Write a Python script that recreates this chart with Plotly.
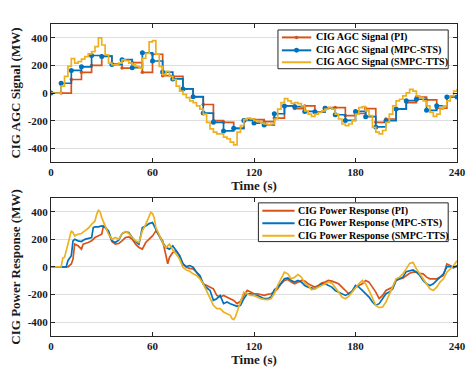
import plotly.graph_objects as go

# ---------------- DATA ----------------
# AGC signal, MPC-STS and PI: one value every 6 s (stairs), t = 0..240
agc_t6 = list(range(0, 241, 6))
agc_mpc = [0, 71, 164, 190, 272, 265, 207, 242, 184, 291, 232, 152, 102, 30, -27,
           -145, -212, -274, -255, -198, -217, -231, -150, -93, -98, -133, -136,
           -110, -157, -198, -133, -171, -245, -200, -115, -55, -45, -125, -92, -28, -28]
agc_pi = [0, 0, 98, 150, 200, 269, 207, 181, 221, 150, 281, 126, 121, 31, -26,
          -83, -200, -212, -255, -193, -193, -207, -181, -93, -112, -93, -136,
          -105, -105, -164, -148, -112, -212, -188, -117, -69, -29, -50, -110, -26, -26]
# AGC signal, SMPC-TTS: one value every 2 s (stairs)
agc_t2 = list(range(0, 241, 2))
agc_smpc = [0, 0, 0, 50, 121, 193, 250, 217, 228, 245, 264, 283, 300, 336, 400, 348,
            276, 217, 205, 205, 217, 240, 235, 217, 205, 193, 181, 252, 288, 371, 380,
            281, 193, 133, 157, 121, 98, 50, 14, -10, -33, -57, -69, -93, -117, -152,
            -212, -260, -283, -295, -295, -319, -331, -355, -375, -283, -236, -193,
            -181, -188, -200, -207, -217, -224, -231, -224, -188, -117, -69, -40, -57,
            -74, -69, -76, -93, -129, -152, -169, -152, -140, -129, -117, -105, -117,
            -152, -188, -224, -236, -224, -200, -152, -105, -98, -129, -164, -248,
            -283, -295, -271, -212, -152, -93, -57, -45, -21, 2, 26, 14, -21, -33,
            -57, -93, -140, -169, -152, -117, -93, -57, -21, 14, 31]

# Power response
pw_pi_t = [0, 10, 12, 13, 14, 16, 18, 19, 22, 24, 26, 28, 30, 31, 32, 34, 36, 38, 40,
           42, 44, 46, 48, 50, 52, 54, 55, 56, 58, 60, 62, 64, 66, 68, 69, 70, 72, 74,
           76, 78, 80, 82, 84, 86, 88, 90, 92, 94, 96, 98, 100, 102, 104, 106, 108,
           110, 112, 114, 116, 118, 120, 122, 124, 126, 128, 130, 132, 134, 136, 138,
           140, 142, 144, 146, 148, 150, 152, 154, 156, 158, 160, 162, 164, 166, 168,
           170, 172, 174, 176, 178, 180, 182, 184, 186, 188, 190, 192, 194, 196, 198,
           200, 202, 204, 206, 208, 210, 212, 214, 216, 218, 220, 222, 224, 226, 228,
           230, 232, 234, 236, 238, 240]
pw_pi = [0, 0, 22, 57, 165, 153, 129, 165, 177, 189, 213, 225, 237, 297, 290, 249,
         184, 165, 170, 189, 213, 218, 201, 165, 141, 129, 153, 177, 201, 225, 261,
         225, 189, 81, 22, 69, 105, 117, 81, 22, -2, -10, -14, -38, -74, -122, -134,
         -146, -158, -206, -218, -206, -218, -230, -242, -266, -247, -206, -170, -182,
         -194, -194, -201, -206, -199, -194, -182, -158, -122, -98, -91, -110, -122,
         -110, -98, -103, -122, -134, -146, -134, -117, -110, -98, -103, -110, -122,
         -146, -170, -194, -175, -146, -134, -122, -98, -110, -146, -182, -230, -206,
         -170, -158, -146, -98, -86, -81, -62, -46, -38, -38, -46, -50, -74, -86, -86,
         -86, -74, -62, 22, 10, -2, 2]

pw_mpc_t = [0, 8, 9, 10, 12, 13, 14, 16, 18, 20, 22, 24, 25, 26, 28, 30, 32, 34, 36,
            38, 40, 42, 44, 46, 48, 50, 52, 54, 56, 58, 60, 62, 64, 66, 68, 70, 72, 74,
            76, 78, 80, 82, 84, 86, 88, 90, 92, 94, 96, 98, 100, 102, 104, 106, 108,
            110, 112, 114, 116, 118, 120, 122, 124, 126, 128, 130, 132, 134, 136, 138,
            140, 142, 144, 146, 148, 150, 152, 154, 156, 158, 160, 162, 164, 166, 168,
            170, 172, 174, 176, 178, 180, 182, 184, 186, 188, 190, 192, 194, 196, 198,
            200, 202, 204, 206, 208, 210, 212, 214, 216, 218, 220, 222, 224, 226, 228,
            230, 232, 234, 236, 238, 240]
pw_mpc = [0, 0, 0, 45, 81, 189, 200, 189, 184, 200, 206, 213, 285, 290, 290, 297, 285,
          261, 189, 177, 194, 242, 254, 249, 213, 184, 165, 285, 297, 314, 321, 273,
          225, 177, 141, 129, 153, 117, 81, 22, 2, 10, -2, -38, -62, -122, -151, -170,
          -242, -230, -206, -266, -254, -266, -278, -285, -278, -230, -194, -194, -206,
          -206, -218, -230, -230, -218, -165, -146, -117, -86, -79, -98, -110, -98,
          -110, -134, -146, -151, -158, -141, -122, -122, -134, -146, -170, -182, -194,
          -206, -194, -175, -134, -146, -170, -194, -218, -254, -278, -266, -230, -194,
          -182, -158, -98, -86, -74, -34, -26, -22, -38, -62, -98, -122, -134, -122,
          -98, -74, -50, 2, 2, -7, 10]

pw_smpc_t = [0, 6, 7, 8, 10, 12, 13, 14, 16, 18, 20, 22, 24, 26, 27, 28, 29, 30, 32,
             34, 36, 38, 40, 42, 44, 46, 48, 50, 52, 54, 56, 58, 59, 60, 61, 62, 64, 66,
             67, 68, 70, 72, 74, 76, 78, 80, 82, 84, 86, 88, 90, 92, 94, 96, 98, 100,
             102, 104, 106, 107, 108, 109, 110, 112, 114, 116, 118, 120, 122, 124, 126,
             128, 130, 132, 134, 136, 138, 140, 142, 144, 146, 148, 150, 152, 154, 156,
             158, 160, 162, 164, 166, 168, 170, 172, 174, 176, 178, 180, 182, 184, 186,
             188, 190, 192, 194, 196, 198, 200, 202, 204, 206, 208, 210, 212, 214, 216,
             218, 220, 222, 224, 226, 228, 230, 232, 234, 236, 238, 240]
pw_smpc = [0, 0, 65, 69, 165, 261, 249, 225, 237, 242, 261, 280, 309, 333, 381, 410,
           400, 357, 297, 237, 201, 213, 201, 242, 256, 242, 213, 189, 177, 261, 309,
           369, 395, 386, 357, 285, 225, 177, 153, 141, 165, 122, 93, 57, -2, -22, -31,
           -50, -62, -86, -122, -170, -218, -278, -302, -302, -326, -338, -350, -374,
           -381, -362, -326, -242, -182, -194, -206, -206, -218, -230, -235, -237, -230,
           -194, -134, -86, -38, -50, -86, -74, -55, -74, -117, -134, -165, -158, -146,
           -134, -122, -110, -117, -146, -182, -218, -230, -213, -182, -146, -122, -98,
           -122, -170, -230, -278, -295, -290, -254, -194, -134, -86, -74, -50, -14, 26,
           34, -14, -50, -86, -122, -158, -170, -146, -110, -86, -38, -14, 10, 45]

assert len(agc_t6) == len(agc_mpc) == len(agc_pi)
assert len(agc_t2) == len(agc_smpc)
assert len(pw_pi_t) == len(pw_pi)
assert len(pw_mpc_t) == len(pw_mpc)
assert len(pw_smpc_t) == len(pw_smpc)

x_ticks = [0, 60, 120, 180, 240]
y_ticks = [-400, -200, 0, 200, 400]
y_ticktext = ["-400", "-200", "0", "200", "400"]

agc_names = ["CIG AGC Signal (PI)", "CIG AGC Signal (MPC-STS)", "CIG AGC Signal (SMPC-TTS)"]
pw_names = ["CIG Power Response (PI)", "CIG Power Response (MPC-STS)",
            "CIG Power Response (SMPC-TTS)"]

C_PI = "#D95319"
C_MPC = "#0072BD"
C_SMPC = "#EDB120"
colors = [C_PI, C_MPC, C_SMPC]
FONT = "Liberation Serif"

W, H = 474, 371
ML, MR, MT, MB = 51, 8, 24, 33
PW, PH = W - ML - MR, H - MT - MB


def px(x):  # pixel -> paper x
    return (x - ML) / PW


def py(y):  # pixel -> paper y
    return (H - MB - y) / PH


fig = go.Figure()
lw = 1.7

# ---- top: AGC signals ----
fig.add_trace(go.Scatter(x=agc_t6, y=agc_pi, mode="lines+markers", line_shape="hv",
                         line=dict(color=C_PI, width=lw), marker=dict(size=3.5, color=C_PI),
                         name=agc_names[0], xaxis="x", yaxis="y"))
fig.add_trace(go.Scatter(x=agc_t6, y=agc_mpc, mode="lines+markers", line_shape="hv",
                         line=dict(color=C_MPC, width=lw), marker=dict(size=5, color=C_MPC),
                         name=agc_names[1], xaxis="x", yaxis="y"))
fig.add_trace(go.Scatter(x=agc_t2, y=agc_smpc, mode="lines", line_shape="hv",
                         line=dict(color=C_SMPC, width=lw),
                         name=agc_names[2], xaxis="x", yaxis="y"))

# ---- bottom: power responses ----
fig.add_trace(go.Scatter(x=pw_pi_t, y=pw_pi, mode="lines", line=dict(color=C_PI, width=lw),
                         name=pw_names[0], xaxis="x2", yaxis="y2"))
fig.add_trace(go.Scatter(x=pw_mpc_t, y=pw_mpc, mode="lines", line=dict(color=C_MPC, width=lw),
                         name=pw_names[1], xaxis="x2", yaxis="y2"))
fig.add_trace(go.Scatter(x=pw_smpc_t, y=pw_smpc, mode="lines", line=dict(color=C_SMPC, width=lw),
                         name=pw_names[2], xaxis="x2", yaxis="y2"))

tickfont = dict(family=FONT, size=11, color="#1a1a1a", weight="bold")
titlefont = dict(family=FONT, size=13, color="#1a1a1a", weight="bold")


def xax(anchor):
    return dict(domain=[0, 1], anchor=anchor, range=[0, 240], tickvals=x_ticks,
                ticks="inside", ticklen=4, tickcolor="#262626", showline=True,
                linecolor="#262626", linewidth=1, mirror="ticks", showgrid=False,
                zeroline=False, tickfont=tickfont,
                title=dict(text="Time (s)", font=titlefont, standoff=2))


def yax(anchor, dom, title):
    return dict(domain=dom, anchor=anchor, range=[-500, 500], tickvals=y_ticks,
                ticktext=y_ticktext, ticks="inside", ticklen=4, tickcolor="#262626",
                showline=True, linecolor="#262626", linewidth=1, mirror="ticks",
                showgrid=True, gridcolor="#dedede", gridwidth=1, zeroline=False,
                tickfont=tickfont, title=dict(text=title, font=titlefont, standoff=4))


# ---- hand-drawn compact legends (MATLAB style) ----
shapes, annotations = [], []
legfont = dict(family=FONT, size=10, color="black", weight="bold")


def add_legend(box, rows, line_x, text_x, names, markers):
    x0, y0, x1, y1 = box
    shapes.append(dict(type="rect", xref="paper", yref="paper",
                       x0=px(x0), x1=px(x1), y0=py(y1), y1=py(y0),
                       line=dict(color="#262626", width=1), fillcolor="white", layer="above"))
    for name, col, ry, mk in zip(names, colors, rows, markers):
        shapes.append(dict(type="line", xref="paper", yref="paper",
                           x0=px(line_x[0]), x1=px(line_x[1]), y0=py(ry), y1=py(ry),
                           line=dict(color=col, width=2), layer="above"))
        if mk:
            cx = (line_x[0] + line_x[1]) / 2
            shapes.append(dict(type="circle", xref="paper", yref="paper",
                               x0=px(cx - mk), x1=px(cx + mk), y0=py(ry + mk), y1=py(ry - mk),
                               line=dict(color=col, width=0), fillcolor=col, layer="above"))
        annotations.append(dict(text=name, xref="paper", yref="paper", x=px(text_x),
                                y=py(ry), xanchor="left", yanchor="middle",
                                showarrow=False, font=legfont))


add_legend((283, 30, 457, 69), [37.5, 50.5, 62.5], (287, 317), 320, agc_names, [1.8, 2.5, 0])
add_legend((263, 204, 457, 243), [212, 224.5, 237], (267, 300), 301, pw_names, [0, 0, 0])

fig.update_layout(
    width=W, height=H,
    margin=dict(l=ML, r=MR, t=MT, b=MB),
    paper_bgcolor="white", plot_bgcolor="white",
    xaxis=xax("y"),
    yaxis=yax("x", [py(163), 1.0], "CIG AGC Signal (MW)"),
    xaxis2=xax("y2"),
    yaxis2=yax("x2", [0.0, py(199)], "CIG Power Response (MW)"),
    showlegend=False,
    shapes=shapes,
    annotations=annotations,
)

fig.write_html("out.html", config={"displayModeBar": False},
               post_script="document.body.style.margin='0';")
